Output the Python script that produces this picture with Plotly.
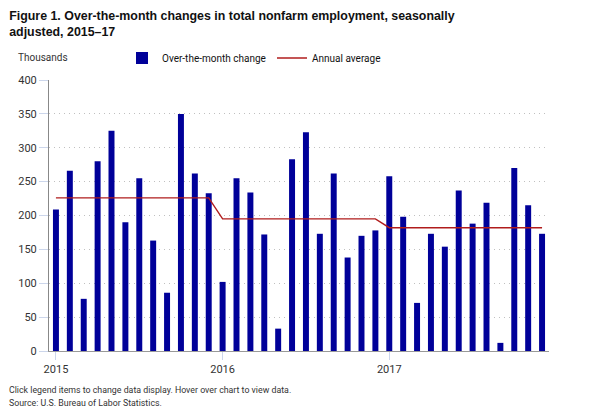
import plotly.graph_objects as go

years = ["2015", "2016", "2017"]
month_names = ["Jan", "Feb", "Mar", "Apr", "May", "Jun",
               "Jul", "Aug", "Sep", "Oct", "Nov", "Dec"]
months = [f"{m} {y}" for y in years for m in month_names]

changes_2015 = [209, 266, 77, 280, 325, 190, 255, 163, 86, 350, 262, 233]
changes_2016 = [102, 255, 234, 172, 33, 283, 323, 173, 262, 138, 170, 178]
changes_2017 = [258, 198, 71, 173, 154, 237, 188, 219, 12, 270, 215, 173]
changes = changes_2015 + changes_2016 + changes_2017

annual_average = [226, 195, 182]
average_by_month = [a for a in annual_average for _ in month_names]

tick_vals = [f"Jan {y}" for y in years]
tick_text = years
y_ticks = [0, 50, 100, 150, 200, 250, 300, 350, 400]

FONT = "Roboto"
TITLE_FONT = "Liberation Sans"

fig = go.Figure()
fig.add_trace(go.Bar(
    x=months, y=changes, name="Over-the-month change",
    marker=dict(color="#000099", line=dict(width=0)),
    width=0.43,
    hovertemplate="%{x}: %{y}<extra></extra>",
))
fig.add_trace(go.Scatter(
    x=months, y=average_by_month, name="Annual average",
    mode="lines", line=dict(color="#b01c1c", width=1.4),
    hovertemplate="%{x}: %{y}<extra></extra>",
))

fig.update_layout(
    width=590, height=420,
    margin=dict(l=41, r=49, t=72, b=77, autoexpand=False),
    paper_bgcolor="white", plot_bgcolor="white",
    font=dict(family=FONT, size=11, color="#333333"),
    showlegend=True,
    legend=dict(
        orientation="h", x=0.146, xanchor="left", y=1.081, yanchor="middle",
        font=dict(family=FONT, size=10, color="#111111"),
        bgcolor="rgba(0,0,0,0)", traceorder="normal",
        entrywidth=105, entrywidthmode="pixels",
    ),
    bargap=0.5,
    title=dict(
        text="Figure 1. Over-the-month changes in total nonfarm employment, seasonally<br>adjusted, 2015–17",
        x=0.002, xanchor="left", xref="container", y=0.972, yanchor="top", yref="container",
        pad=dict(t=0, l=0, b=0, r=0),
        font=dict(family=TITLE_FONT, size=12.4, color="#111111", weight="bold"),
    ),
    annotations=[
        dict(text="Thousands", xref="paper", yref="paper", x=-0.066, y=1.0812,
             xanchor="left", yanchor="middle", showarrow=False,
             font=dict(family=FONT, size=10, color="#333333")),
        dict(text="Click legend items to change data display. Hover over chart to view data.",
             xref="paper", yref="paper", x=-0.084, y=-0.144,
             xanchor="left", yanchor="middle", align="left", showarrow=False,
             font=dict(family=FONT, size=8.8, color="#333333")),
        dict(text="Source: U.S. Bureau of Labor Statistics.",
             xref="paper", yref="paper", x=-0.084, y=-0.192,
             xanchor="left", yanchor="middle", align="left", showarrow=False,
             font=dict(family=FONT, size=8.8, color="#333333")),
    ],
)

fig.update_xaxes(
    type="category", range=[-0.5, 35.5],
    tickmode="array", tickvals=tick_vals, ticktext=tick_text,
    showline=True, linecolor="#999999", linewidth=1,
    ticks="outside", ticklen=8, tickcolor="#ccd6eb",
    showgrid=False, tickfont=dict(family=FONT, size=11, color="#333333"),
)
fig.update_yaxes(
    range=[0, 400], tickmode="array", tickvals=y_ticks,
    showline=True, linecolor="#888888", linewidth=1,
    ticks="outside", ticklen=9, tickcolor="#ccd6eb",
    showgrid=True, gridcolor="#c0c0c0", griddash="1px,4px", gridwidth=1,
    zeroline=False, tickfont=dict(family=FONT, size=11, color="#333333"),
)

fig.write_html("out.html")
